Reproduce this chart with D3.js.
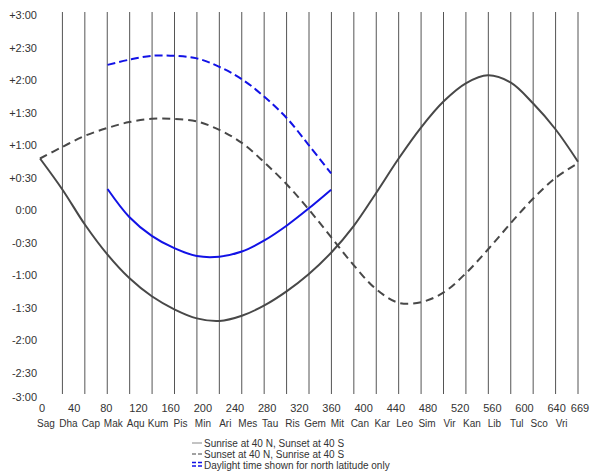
<!DOCTYPE html>
<html>
<head>
<meta charset="utf-8">
<script src="https://cdn.jsdelivr.net/npm/d3@7"></script>
<style>
  body { margin: 0; background: #fff; }
  text { font-family: "Liberation Sans", Arial, sans-serif; fill: #333; }
</style>
</head>
<body>
<div id="chart"></div>
<script>
// Sol of the Martian year (0..669) and time offset in hours
const sunriseN = [
  [0, 0.80], [28, 0.32], [56, -0.22], [84, -0.68], [111, -1.04], [139, -1.32],
  [167, -1.52], [195, -1.66], [223, -1.70], [251, -1.62], [279, -1.46],
  [307, -1.24], [334, -0.98], [362, -0.65], [390, -0.24], [418, 0.27], [446, 0.80],
  [474, 1.28], [502, 1.68], [530, 1.96], [557, 2.08], [585, 1.97], [613, 1.65],
  [641, 1.25], [669, 0.75]
];
const sunsetN = [
  [0, 0.80], [28, 0.98], [56, 1.15], [84, 1.27], [111, 1.36], [139, 1.41],
  [167, 1.41], [195, 1.37], [223, 1.24], [251, 1.04], [279, 0.74], [307, 0.40],
  [334, 0.02], [362, -0.41], [390, -0.84], [418, -1.21], [446, -1.42],
  [474, -1.41], [502, -1.26], [530, -0.96], [557, -0.60], [585, -0.20], [613, 0.18],
  [641, 0.50], [669, 0.73]
];
const daylightSolid = [
  [84, 0.33], [111, -0.10], [139, -0.39], [167, -0.58], [195, -0.70],
  [223, -0.71], [251, -0.63], [279, -0.46], [307, -0.23], [334, 0.03], [362, 0.32]
];
const daylightDashed = [
  [84, 2.24], [111, 2.32], [139, 2.38], [167, 2.38], [195, 2.34], [223, 2.21],
  [251, 2.02], [279, 1.75], [307, 1.42], [334, 1.01], [362, 0.57]
];

const months = ["Sag", "Dha", "Cap", "Mak", "Aqu", "Kum", "Pis", "Min", "Ari", "Mes",
  "Tau", "Ris", "Gem", "Mit", "Can", "Kar", "Leo", "Sim", "Vir", "Kan", "Lib", "Tul",
  "Sco", "Vri"];
const solTicks = [0, 40, 80, 120, 160, 200, 240, 280, 320, 360, 400, 440, 480, 520,
  560, 600, 640, 669];
const hourTicks = [3, 2.5, 2, 1.5, 1, 0.5, 0, -0.5, -1, -1.5, -2, -2.5, -3];
const hourLabels = ["+3:00", "+2:30", "+2:00", "+1:30", "+1:00", "+0:30", "0:00",
  "-0:30", "-1:00", "-1:30", "-2:00", "-2:30", "-3:00"];
const yearLength = 669;

const width = 595, height = 476;
const svg = d3.select("#chart").append("svg")
  .attr("width", width).attr("height", height);

const x = d3.scaleLinear().domain([0, yearLength]).range([40, 578]);
const y = d3.scaleLinear().domain([-3, 3]).range([405.5, 15.5]);
const lineTop = 12, lineBottom = 394;

// month boundary lines
const monthLen = yearLength / months.length;
const bounds = d3.range(1, months.length + 1).map(i => i * monthLen);
svg.append("g").selectAll("line").data(bounds).join("line")
  .attr("x1", d => x(d)).attr("x2", d => x(d))
  .attr("y1", lineTop).attr("y2", lineBottom)
  .attr("stroke", "#555").attr("stroke-width", 1);

// y labels
svg.append("g").selectAll("text").data(hourTicks).join("text")
  .attr("x", 37)
  .attr("y", d => Math.min(y(d), 397))
  .attr("dy", "0.36em")
  .attr("text-anchor", "end")
  .style("font-size", "11px")
  .text((d, i) => hourLabels[i]);

// x labels
svg.append("g").selectAll("text").data(solTicks).join("text")
  .attr("x", d => x(d) + 2)
  .attr("y", 412)
  .attr("text-anchor", "middle")
  .style("font-size", "11px")
  .text(d => d);

svg.append("g").selectAll("text").data(months).join("text")
  .attr("x", (d, i) => x(i * monthLen) + 6)
  .attr("y", 427)
  .attr("text-anchor", "middle")
  .style("font-size", "10px")
  .text(d => d);

// curves
const line = d3.line()
  .x(d => x(d[0])).y(d => y(d[1]))
  .curve(d3.curveCatmullRom.alpha(0.5));

const series = [
  { data: sunriseN, color: "#484848", dash: null },
  { data: sunsetN, color: "#484848", dash: "8,5" },
  { data: daylightSolid, color: "#1212e6", dash: null },
  { data: daylightDashed, color: "#1212e6", dash: "8,4" }
];
svg.append("g").selectAll("path").data(series).join("path")
  .attr("d", d => line(d.data))
  .attr("fill", "none")
  .attr("stroke", d => d.color)
  .attr("stroke-width", 2)
  .attr("stroke-dasharray", d => d.dash);

// legend
const legend = svg.append("g").attr("transform", "translate(192,0)");
const legendItems = [
  { label: "Sunrise at 40 N, Sunset at 40 S", y: 443 },
  { label: "Sunset at 40 N, Sunrise at 40 S", y: 454 },
  { label: "Daylight time shown for north latitude only", y: 465 }
];
legend.selectAll("text").data(legendItems).join("text")
  .attr("x", 12).attr("y", d => d.y).attr("dy", "0.35em")
  .style("font-size", "10px")
  .text(d => d.label);

legend.append("line").attr("x1", 0).attr("x2", 10).attr("y1", 443).attr("y2", 443)
  .attr("stroke", "#888").attr("stroke-width", 1);
legend.append("line").attr("x1", 0).attr("x2", 10).attr("y1", 454).attr("y2", 454)
  .attr("stroke", "#444").attr("stroke-width", 1).attr("stroke-dasharray", "4,2");
[462.5, 466].forEach(yy => {
  legend.append("line").attr("x1", 0).attr("x2", 10).attr("y1", yy).attr("y2", yy)
    .attr("stroke", "#1212e6").attr("stroke-width", 1.3).attr("stroke-dasharray", "4,2");
});
</script>
</body>
</html>
